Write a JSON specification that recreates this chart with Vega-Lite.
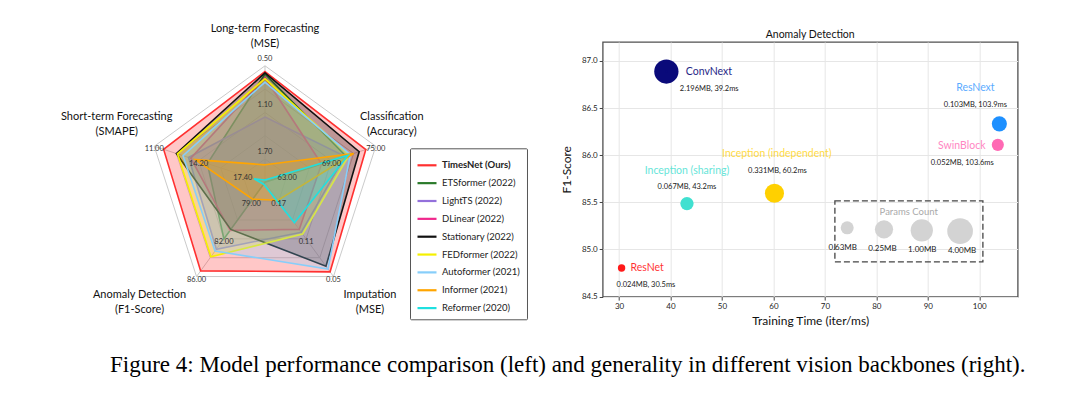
{
  "$schema": "https://vega.github.io/schema/vega-lite/v6.json",
  "background": "white",
  "padding": {"left": 0, "top": 22, "right": 5, "bottom": 5},
  "bounds": "flush",
  "spacing": 72.7,
  "config": {"font": "Lato", "view": {"stroke": null}},
  "title": {
    "text": "Figure 4: Model performance comparison (left) and generality in different vision backbones (right).",
    "orient": "bottom", "anchor": "start", "dx": 110, "offset": 27,
    "font": "Liberation Serif", "fontSize": 23, "fontWeight": "normal", "color": "#000000"
  },
  "datasets": {
    "radar": [
      {"model": "TimesNet (Ours)", "k": 0, "r": 0.95}, {"model": "TimesNet (Ours)", "k": 1, "r": 0.91}, {"model": "TimesNet (Ours)", "k": 2, "r": 0.95}, {"model": "TimesNet (Ours)", "k": 3, "r": 0.94}, {"model": "TimesNet (Ours)", "k": 4, "r": 0.915},
      {"model": "ETSformer (2022)", "k": 0, "r": 0.93}, {"model": "ETSformer (2022)", "k": 1, "r": 0.73}, {"model": "ETSformer (2022)", "k": 2, "r": 0.0}, {"model": "ETSformer (2022)", "k": 3, "r": 0.6}, {"model": "ETSformer (2022)", "k": 4, "r": 0.52},
      {"model": "LightTS (2022)", "k": 0, "r": 0.56}, {"model": "LightTS (2022)", "k": 1, "r": 0.72}, {"model": "LightTS (2022)", "k": 2, "r": 0.53}, {"model": "LightTS (2022)", "k": 3, "r": 0.71}, {"model": "LightTS (2022)", "k": 4, "r": 0.69},
      {"model": "DLinear (2022)", "k": 0, "r": 0.9}, {"model": "DLinear (2022)", "k": 1, "r": 0.51}, {"model": "DLinear (2022)", "k": 2, "r": 0.5}, {"model": "DLinear (2022)", "k": 3, "r": 0.51}, {"model": "DLinear (2022)", "k": 4, "r": 0.67},
      {"model": "Stationary (2022)", "k": 0, "r": 0.94}, {"model": "Stationary (2022)", "k": 1, "r": 0.85}, {"model": "Stationary (2022)", "k": 2, "r": 0.89}, {"model": "Stationary (2022)", "k": 3, "r": 0.5}, {"model": "Stationary (2022)", "k": 4, "r": 0.8},
      {"model": "FEDformer (2022)", "k": 0, "r": 0.89}, {"model": "FEDformer (2022)", "k": 1, "r": 0.76}, {"model": "FEDformer (2022)", "k": 2, "r": 0.55}, {"model": "FEDformer (2022)", "k": 3, "r": 0.79}, {"model": "FEDformer (2022)", "k": 4, "r": 0.79},
      {"model": "Autoformer (2021)", "k": 0, "r": 0.86}, {"model": "Autoformer (2021)", "k": 1, "r": 0.77}, {"model": "Autoformer (2021)", "k": 2, "r": 0.92}, {"model": "Autoformer (2021)", "k": 3, "r": 0.73}, {"model": "Autoformer (2021)", "k": 4, "r": 0.74},
      {"model": "Informer (2021)", "k": 0, "r": 0.15}, {"model": "Informer (2021)", "k": 1, "r": 0.8}, {"model": "Informer (2021)", "k": 2, "r": 0.19}, {"model": "Informer (2021)", "k": 3, "r": 0.18}, {"model": "Informer (2021)", "k": 4, "r": 0.63},
      {"model": "Reformer (2020)", "k": 0, "r": 0.02}, {"model": "Reformer (2020)", "k": 1, "r": 0.75}, {"model": "Reformer (2020)", "k": 2, "r": 0.43}, {"model": "Reformer (2020)", "k": 3, "r": 0.02}, {"model": "Reformer (2020)", "k": 4, "r": 0.1}
    ],
    "rings": [
      {"r": 0.2, "k": 0}, {"r": 0.2, "k": 1}, {"r": 0.2, "k": 2}, {"r": 0.2, "k": 3}, {"r": 0.2, "k": 4},
      {"r": 0.4, "k": 0}, {"r": 0.4, "k": 1}, {"r": 0.4, "k": 2}, {"r": 0.4, "k": 3}, {"r": 0.4, "k": 4},
      {"r": 0.6, "k": 0}, {"r": 0.6, "k": 1}, {"r": 0.6, "k": 2}, {"r": 0.6, "k": 3}, {"r": 0.6, "k": 4},
      {"r": 0.8, "k": 0}, {"r": 0.8, "k": 1}, {"r": 0.8, "k": 2}, {"r": 0.8, "k": 3}, {"r": 0.8, "k": 4},
      {"r": 1.0, "k": 0}, {"r": 1.0, "k": 1}, {"r": 1.0, "k": 2}, {"r": 1.0, "k": 3}, {"r": 1.0, "k": 4}
    ],
    "spokes": [{"r": 1.0, "k": 0}, {"r": 1.0, "k": 1}, {"r": 1.0, "k": 2}, {"r": 1.0, "k": 3}, {"r": 1.0, "k": 4}],
    "ticks": [
      {"k": 0, "r": 1.0, "label": "0.50"}, {"k": 0, "r": 0.6, "label": "1.10"}, {"k": 0, "r": 0.2, "label": "1.70"},
      {"k": 1, "r": 1.0, "label": "75.00"}, {"k": 1, "r": 0.6, "label": "69.00"}, {"k": 1, "r": 0.2, "label": "63.00"},
      {"k": 2, "r": 1.0, "label": "0.05"}, {"k": 2, "r": 0.6, "label": "0.11"}, {"k": 2, "r": 0.2, "label": "0.17"},
      {"k": 3, "r": 1.0, "label": "86.00"}, {"k": 3, "r": 0.6, "label": "82.00"}, {"k": 3, "r": 0.2, "label": "79.00"},
      {"k": 4, "r": 1.0, "label": "11.00"}, {"k": 4, "r": 0.6, "label": "14.20"}, {"k": 4, "r": 0.2, "label": "17.40"}
    ],
    "tasks": [
      {"k": 0, "r": 1.0, "task": "Long-term Forecasting\n(MSE)"},
      {"k": 1, "r": 1.0, "task": "Classification\n(Accuracy)"},
      {"k": 2, "r": 1.0, "task": "Imputation\n(MSE)"},
      {"k": 3, "r": 1.0, "task": "Anomaly Detection\n(F1-Score)"},
      {"k": 4, "r": 1.0, "task": "Short-term Forecasting\n(SMAPE)"}
    ],
    "backbones": [
      {"name": "ConvNext", "time": 39.2, "f1": 86.887, "params": 2.196, "info": "2.196MB, 39.2ms"},
      {"name": "ResNet", "time": 30.5, "f1": 84.804, "params": 0.024, "info": "0.024MB, 30.5ms"},
      {"name": "Inception (sharing)", "time": 43.2, "f1": 85.486, "params": 0.067, "info": "0.067MB, 43.2ms"},
      {"name": "Inception (independent)", "time": 60.2, "f1": 85.596, "params": 0.331, "info": "0.331MB, 60.2ms"},
      {"name": "ResNext", "time": 103.9, "f1": 86.332, "params": 0.103, "info": "0.103MB, 103.9ms"},
      {"name": "SwinBlock", "time": 103.6, "f1": 86.109, "params": 0.052, "info": "0.052MB, 103.6ms"}
    ]
  },
  "hconcat": [
    {
      "width": 530,
      "height": 254.6,
      "view": {"stroke": null, "fill": "white"},
      "encoding": {
        "x": {"field": "px", "type": "quantitative", "scale": {"domain": [-2.2747, 2.2747], "nice": false, "zero": false}, "axis": null},
        "y": {"field": "py", "type": "quantitative", "scale": {"domain": [-0.9811, 1.2043], "nice": false, "zero": false}, "axis": null}
      },
      "layer": [
        {
          "data": {"name": "rings"},
          "transform": [
            {"calculate": "datum.r * sin(datum.k * 2 * PI / 5)", "as": "px"},
            {"calculate": "datum.r * cos(datum.k * 2 * PI / 5)", "as": "py"}
          ],
          "mark": {"type": "line", "interpolate": "linear-closed", "stroke": "#cacaca", "strokeWidth": 1},
          "encoding": {"detail": {"field": "r", "type": "nominal"}, "order": {"field": "k", "type": "quantitative"}}
        },
        {
          "data": {"name": "spokes"},
          "transform": [
            {"calculate": "datum.r * sin(datum.k * 2 * PI / 5)", "as": "px"},
            {"calculate": "datum.r * cos(datum.k * 2 * PI / 5)", "as": "py"}
          ],
          "mark": {"type": "rule", "stroke": "#cacaca", "strokeWidth": 1},
          "encoding": {"x2": {"datum": 0}, "y2": {"datum": 0}}
        },
        {
          "data": {"name": "radar"},
          "transform": [
            {"calculate": "datum.r * sin(datum.k * 2 * PI / 5)", "as": "px"},
            {"calculate": "datum.r * cos(datum.k * 2 * PI / 5)", "as": "py"}
          ],
          "mark": {"type": "line", "interpolate": "linear-closed", "strokeWidth": 1.6, "fillOpacity": 0.27},
          "encoding": {
            "stroke": {
              "field": "model", "type": "nominal",
              "scale": {
                "domain": ["TimesNet (Ours)", "ETSformer (2022)", "LightTS (2022)", "DLinear (2022)", "Stationary (2022)", "FEDformer (2022)", "Autoformer (2021)", "Informer (2021)", "Reformer (2020)"],
                "range": ["#ff3030", "#2a7a2a", "#9370db", "#f0288c", "#111111", "#f5f000", "#87cefa", "#ffa500", "#1fe0e0"]
              },
              "legend": {
                "orient": "none", "legendX": 410, "legendY": 106.3, "title": null,
                "symbolType": "stroke", "symbolSize": 361, "symbolStrokeWidth": 2.2,
                "labelFont": "Lato", "labelFontSize": 9.5, "labelColor": "#222222", "labelOffset": 4, "labelLimit": 200,
                "labelFontWeight": {"expr": "datum.value === 'TimesNet (Ours)' ? 'bold' : 'normal'"},
                "rowPadding": 1.85, "padding": 6, "strokeColor": "#555555", "fillColor": "white", "cornerRadius": 1
              }
            },
            "fill": {
              "field": "model", "type": "nominal",
              "scale": {
                "domain": ["TimesNet (Ours)", "ETSformer (2022)", "LightTS (2022)", "DLinear (2022)", "Stationary (2022)", "FEDformer (2022)", "Autoformer (2021)", "Informer (2021)", "Reformer (2020)"],
                "range": ["#ff3030", "#2a7a2a", "#9370db", "#f0288c", "#111111", "#f5f000", "#87cefa", "#ffa500", "#1fe0e0"]
              },
              "legend": {
                "orient": "none", "legendX": 410, "legendY": 106.3, "title": null,
                "symbolType": "stroke", "symbolSize": 361, "symbolStrokeWidth": 2.2,
                "labelFont": "Lato", "labelFontSize": 9.5, "labelColor": "#222222", "labelOffset": 4, "labelLimit": 200,
                "labelFontWeight": {"expr": "datum.value === 'TimesNet (Ours)' ? 'bold' : 'normal'"},
                "rowPadding": 1.85, "padding": 6, "strokeColor": "#555555", "fillColor": "white", "cornerRadius": 1
              }
            },
            "order": {"field": "k", "type": "quantitative"}
          }
        },
        {
          "data": {"name": "ticks"},
          "transform": [
            {"filter": "datum.k == 0"},
            {"calculate": "datum.r * sin(datum.k * 2 * PI / 5)", "as": "px"},
            {"calculate": "datum.r * cos(datum.k * 2 * PI / 5)", "as": "py"}
          ],
          "mark": {"type": "text", "fontSize": 7.5, "color": "#333333", "dy": -7, "align": "center", "baseline": "middle"},
          "encoding": {"text": {"field": "label", "type": "nominal"}}
        },
        {
          "data": {"name": "ticks"},
          "transform": [
            {"filter": "datum.k != 0"},
            {"calculate": "datum.r * sin(datum.k * 2 * PI / 5)", "as": "px"},
            {"calculate": "datum.r * cos(datum.k * 2 * PI / 5)", "as": "py"}
          ],
          "mark": {"type": "text", "fontSize": 7.5, "color": "#333333", "dy": 3, "align": "center", "baseline": "middle"},
          "encoding": {"text": {"field": "label", "type": "nominal"}}
        },
        {
          "data": {"name": "tasks"},
          "transform": [
            {"filter": "datum.k == 0"},
            {"calculate": "datum.r * sin(datum.k * 2 * PI / 5)", "as": "px"},
            {"calculate": "datum.r * cos(datum.k * 2 * PI / 5)", "as": "py"}
          ],
          "mark": {"type": "text", "lineBreak": "\n", "lineHeight": 15, "fontSize": 11, "color": "#111111", "align": "center", "baseline": "middle", "dx": 0, "dy": -37},
          "encoding": {"text": {"field": "task", "type": "nominal"}}
        },
        {
          "data": {"name": "tasks"},
          "transform": [
            {"filter": "datum.k == 1"},
            {"calculate": "datum.r * sin(datum.k * 2 * PI / 5)", "as": "px"},
            {"calculate": "datum.r * cos(datum.k * 2 * PI / 5)", "as": "py"}
          ],
          "mark": {"type": "text", "lineBreak": "\n", "lineHeight": 15, "fontSize": 11, "color": "#111111", "align": "center", "baseline": "middle", "dx": 16, "dy": -29.5},
          "encoding": {"text": {"field": "task", "type": "nominal"}}
        },
        {
          "data": {"name": "tasks"},
          "transform": [
            {"filter": "datum.k == 2"},
            {"calculate": "datum.r * sin(datum.k * 2 * PI / 5)", "as": "px"},
            {"calculate": "datum.r * cos(datum.k * 2 * PI / 5)", "as": "py"}
          ],
          "mark": {"type": "text", "lineBreak": "\n", "lineHeight": 15, "fontSize": 11, "color": "#111111", "align": "center", "baseline": "middle", "dx": 36.5, "dy": 18.5},
          "encoding": {"text": {"field": "task", "type": "nominal"}}
        },
        {
          "data": {"name": "tasks"},
          "transform": [
            {"filter": "datum.k == 3"},
            {"calculate": "datum.r * sin(datum.k * 2 * PI / 5)", "as": "px"},
            {"calculate": "datum.r * cos(datum.k * 2 * PI / 5)", "as": "py"}
          ],
          "mark": {"type": "text", "lineBreak": "\n", "lineHeight": 15, "fontSize": 11, "color": "#111111", "align": "center", "baseline": "middle", "dx": -57, "dy": 18.5},
          "encoding": {"text": {"field": "task", "type": "nominal"}}
        },
        {
          "data": {"name": "tasks"},
          "transform": [
            {"filter": "datum.k == 4"},
            {"calculate": "datum.r * sin(datum.k * 2 * PI / 5)", "as": "px"},
            {"calculate": "datum.r * cos(datum.k * 2 * PI / 5)", "as": "py"}
          ],
          "mark": {"type": "text", "lineBreak": "\n", "lineHeight": 15, "fontSize": 11, "color": "#111111", "align": "center", "baseline": "middle", "dx": -37.5, "dy": -29.5},
          "encoding": {"text": {"field": "task", "type": "nominal"}}
        }
      ]
    },
    {
      "width": 415,
      "height": 254.6,
      "view": {"stroke": "#505050", "strokeWidth": 1.3},
      "title": {"text": "Anomaly Detection", "fontSize": 10.5, "fontWeight": "normal", "font": "Lato", "color": "#111111", "offset": 1.5},
      "data": {"name": "backbones"},
      "encoding": {
        "x": {
          "field": "time", "type": "quantitative",
          "scale": {"domain": [26.83, 107.46], "nice": false, "zero": false},
          "axis": {"title": "Training Time (iter/ms)", "values": [30, 40, 50, 60, 70, 80, 90, 100], "grid": true, "gridColor": "#e6e6e6", "domain": false, "tickSize": 3.5, "tickColor": "#444444", "labelFontSize": 8, "labelColor": "#222222", "labelPadding": 2, "titleFontSize": 12, "titleFontWeight": "normal", "titleColor": "#111111", "titlePadding": 5}
        },
        "y": {
          "field": "f1", "type": "quantitative",
          "scale": {"domain": [84.5, 87.2], "nice": false, "zero": false},
          "axis": {"title": "F1-Score", "values": [84.5, 85, 85.5, 86, 86.5, 87], "format": ".1f", "grid": true, "gridColor": "#e6e6e6", "domain": false, "tickSize": 3.5, "tickColor": "#444444", "labelFontSize": 8, "labelColor": "#222222", "labelPadding": 2, "titleFontSize": 12, "titleFontWeight": "normal", "titleColor": "#111111", "titlePadding": 8}
        },
        "color": {
          "field": "name", "type": "nominal",
          "scale": {"domain": ["ConvNext", "ResNet", "Inception (sharing)", "Inception (independent)", "ResNext", "SwinBlock"], "range": ["#0a0a7a", "#ff1a1a", "#40e0d0", "#ffd000", "#1e90ff", "#ff69b4"]},
          "legend": null
        }
      },
      "layer": [
        {
          "mark": {"type": "circle", "opacity": 1},
          "encoding": {
            "size": {
              "field": "params", "type": "quantitative",
              "scale": {"type": "log", "domain": [0.024, 4], "range": [55, 660]},
              "legend": {
                "orient": "none", "legendX": 834.7, "legendY": 158.6, "direction": "horizontal",
                "title": "Params Count", "titleAnchor": "middle", "titleColor": "#aaaaaa", "titleFontSize": 9.5, "titleFontWeight": "normal", "titlePadding": 2,
                "values": [0.0625, 0.25, 1, 4],
                "labelExpr": "datum.value < 0.1 ? '0.63MB' : format(datum.value, '.2f') + 'MB'",
                "symbolFillColor": "#d3d3d3", "symbolStrokeWidth": 0, "symbolType": "circle", "symbolOpacity": 1,
                "labelAlign": "center", "labelOffset": -11, "labelFontSize": 8, "labelColor": "#222222",
                "columnPadding": 9.8, "padding": 6, "strokeColor": "#444444",
                "encoding": {"labels": {"dy": {"value": 20}}, "legend": {"strokeDash": {"value": [6, 3]}, "strokeWidth": {"value": 1.3}}}
              }
            }
          }
        },
        {"mark": {"type": "circle", "size": 6, "color": "white", "opacity": 1}},
        {"transform": [{"filter": {"field": "name", "equal": "ConvNext"}}], "mark": {"type": "text", "fontSize": 10.5, "align": "left", "baseline": "middle", "dx": 19.5, "dy": 0.7, "opacity": 0.9}, "encoding": {"text": {"field": "name"}}},
        {"transform": [{"filter": {"field": "name", "equal": "ConvNext"}}], "mark": {"type": "text", "fontSize": 7.5, "align": "left", "baseline": "middle", "dx": 13.5, "dy": 17}, "encoding": {"text": {"field": "info"}, "color": {"value": "#222222"}}},
        {"transform": [{"filter": {"field": "name", "equal": "ResNext"}}], "mark": {"type": "text", "fontSize": 10.5, "align": "center", "baseline": "middle", "dx": -24, "dy": -36, "opacity": 0.75}, "encoding": {"text": {"field": "name"}}},
        {"transform": [{"filter": {"field": "name", "equal": "ResNext"}}], "mark": {"type": "text", "fontSize": 7.5, "align": "center", "baseline": "middle", "dx": -24, "dy": -19.3}, "encoding": {"text": {"field": "info"}, "color": {"value": "#222222"}}},
        {"transform": [{"filter": {"field": "name", "equal": "SwinBlock"}}], "mark": {"type": "text", "fontSize": 10.5, "align": "right", "baseline": "middle", "dx": -12.3, "dy": 0.7, "opacity": 0.8}, "encoding": {"text": {"field": "name"}}},
        {"transform": [{"filter": {"field": "name", "equal": "SwinBlock"}}], "mark": {"type": "text", "fontSize": 7.5, "align": "center", "baseline": "middle", "dx": -35.6, "dy": 18}, "encoding": {"text": {"field": "info"}, "color": {"value": "#222222"}}},
        {"transform": [{"filter": {"field": "name", "equal": "Inception (independent)"}}], "mark": {"type": "text", "fontSize": 10.5, "align": "center", "baseline": "middle", "dx": 2.4, "dy": -39.4, "opacity": 0.75}, "encoding": {"text": {"field": "name"}}},
        {"transform": [{"filter": {"field": "name", "equal": "Inception (independent)"}}], "mark": {"type": "text", "fontSize": 7.5, "align": "center", "baseline": "middle", "dx": 3, "dy": -22.7}, "encoding": {"text": {"field": "info"}, "color": {"value": "#222222"}}},
        {"transform": [{"filter": {"field": "name", "equal": "Inception (sharing)"}}], "mark": {"type": "text", "fontSize": 10.5, "align": "center", "baseline": "middle", "dx": 0, "dy": -33, "opacity": 0.8}, "encoding": {"text": {"field": "name"}}},
        {"transform": [{"filter": {"field": "name", "equal": "Inception (sharing)"}}], "mark": {"type": "text", "fontSize": 7.5, "align": "center", "baseline": "middle", "dx": 0, "dy": -16.7}, "encoding": {"text": {"field": "info"}, "color": {"value": "#222222"}}},
        {"transform": [{"filter": {"field": "name", "equal": "ResNet"}}], "mark": {"type": "text", "fontSize": 10.5, "align": "left", "baseline": "middle", "dx": 9, "dy": 0, "opacity": 0.9}, "encoding": {"text": {"field": "name"}}},
        {"transform": [{"filter": {"field": "name", "equal": "ResNet"}}], "mark": {"type": "text", "fontSize": 7.5, "align": "left", "baseline": "middle", "dx": -5, "dy": 17}, "encoding": {"text": {"field": "info"}, "color": {"value": "#222222"}}}
      ]
    }
  ]
}
